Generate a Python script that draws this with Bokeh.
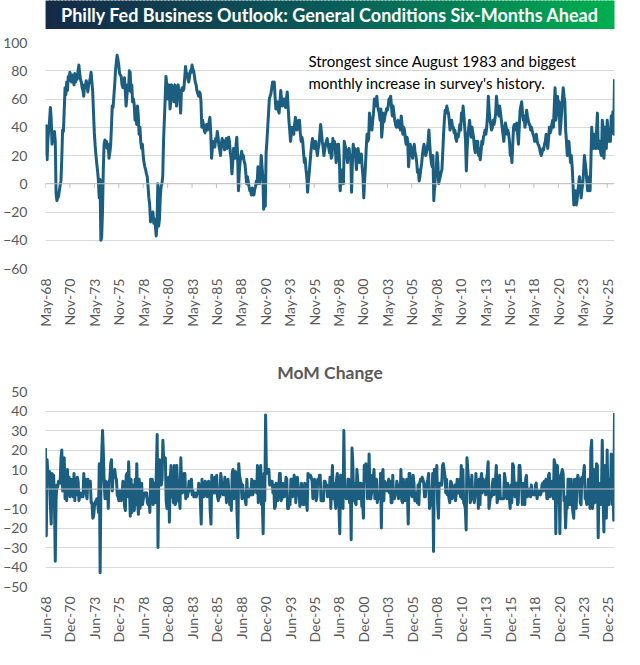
import numpy as np
from bokeh.plotting import figure
from bokeh.layouts import column
from bokeh.models import Range1d, FixedTicker, Label, Span
from bokeh.core.properties import value
from bokeh.embed import file_html
from bokeh.resources import INLINE

title_text = "Philly Fed Business Outlook: General Conditions Six-Months Ahead"
note_line1 = "Strongest since August 1983 and biggest"
note_line2 = "monthly increase in survey's history."
mom_title = "MoM Change"

top_tick_labels = ["May-68", "Nov-70", "May-73", "Nov-75", "May-78", "Nov-80", "May-83", "Nov-85",
                   "May-88", "Nov-90", "May-93", "Nov-95", "May-98", "Nov-00", "May-03", "Nov-05",
                   "May-08", "Nov-10", "May-13", "Nov-15", "May-18", "Nov-20", "May-23", "Nov-25"]
bottom_tick_labels = ["Jun-68", "Dec-70", "Jun-73", "Dec-75", "Jun-78", "Dec-80", "Jun-83", "Dec-85",
                      "Jun-88", "Dec-90", "Jun-93", "Dec-95", "Jun-98", "Dec-00", "Jun-03", "Dec-05",
                      "Jun-08", "Dec-10", "Jun-13", "Dec-15", "Jun-18", "Dec-20", "Jun-23", "Dec-25"]
top_y_ticks = [-60, -40, -20, 0, 20, 40, 60, 80, 100]
bottom_y_ticks = [-50, -40, -30, -20, -10, 0, 10, 20, 30, 40, 50]

# monthly readings of the six-months-ahead general conditions index (from May-68)
outlook_values = [
    20, 41, 17, 32, 38, 45, 54, 46, 28, 36, 30, 37,
    30, -7, -12, -10, -9, -5, -1, 2, 18, 38, 37, 52,
    68, 63, 72, 66, 76, 73, 79, 75, 72, 77, 74, 70,
    78, 72, 77, 74, 80, 84, 78, 74, 72, 68, 66, 62,
    70, 68, 73, 70, 65, 70, 72, 75, 79, 72, 65, 50,
    36, 27, 20, 14, 9, 2, -10, 3, -40, -38, -20, 10,
    28, 31, 26, 30, 25, 28, 18, 22, 27, 40, 55, 54,
    62, 70, 80, 86, 91, 88, 84, 78, 77, 76, 70, 68,
    72, 75, 66, 55, 62, 70, 66, 80, 79, 65, 70, 58,
    60, 56, 45, 50, 42, 55, 48, 35, 40, 30, 25, 28,
    20, 15, 12, 10, 7, 5, -2, -10, -15, -27, -22, -25,
    -20, -28, -25, -30, -37, -28, 0, -30, -25, -10, -2, 0,
    5, 30, 45, 60, 76, 70, 60, 64, 70, 53, 58, 70,
    66, 65, 58, 70, 62, 55, 67, 70, 64, 60, 50, 66,
    68, 66, 67, 75, 83, 78, 78, 74, 72, 76, 80, 79,
    84, 81, 80, 76, 72, 70, 66, 64, 62, 65, 64, 58,
    40, 45, 42, 38, 36, 40, 42, 38, 40, 44, 47, 36,
    18, 25, 30, 28, 26, 32, 30, 37, 33, 27, 24, 20,
    28, 32, 30, 27, 24, 30, 32, 25, 28, 33, 30, 22,
    18, 7, 15, 25, 20, 18, 27, 33, 20, -5, 8, 15,
    20, 23, 18, 20, 16, 14, 8, 0, 5, 2, -2, -5,
    -5, -8, -3, -6, -8, -4, -2, 2, 0, 12, 5, 0,
    8, 20, 12, 5, -18, -10, -16, 22, 30, 40, 50, 60,
    62, 64, 68, 72, 70, 72, 62, 53, 56, 58, 52, 50,
    58, 66, 60, 55, 58, 60, 56, 54, 60, 65, 55, 45,
    38, 30, 35, 40, 36, 35, 42, 47, 40, 38, 44, 45,
    45, 36, 30, 33, 30, 22, 15, 18, 10, 5, -6, 2,
    8, 15, 22, 28, 32, 27, 25, 30, 30, 24, 20, 25,
    28, 35, 42, 36, 30, 26, 20, 24, 28, 30, 32, 28,
    25, 22, 28, 18, 20, 32, 27, 30, 25, 15, 20, 28,
    28, 18, -5, 2, 5, 10, 0, 30, 27, 25, 20, 15,
    20, 25, 18, 20, -6, 15, 28, 22, 25, 18, 10, 20,
    25, 20, 15, 18, 21, 12, 5, -10, 2, 12, 25, 35,
    30, 32, 50, 45, 40, 38, 45, 50, 60, 55, 57, 62,
    55, 52, 50, 45, 53, 33, 40, 50, 44, 48, 50, 53,
    52, 55, 60, 58, 62, 55, 48, 55, 50, 45, 42, 40,
    44, 45, 40, 42, 38, 48, 42, 35, 40, 38, 32, 28,
    33, 30, 12, 20, 28, 25, 22, 18, 25, 28, 22, 20,
    15, 8, 10, 2, 5, 10, 14, 20, 25, 28, 24, 20,
    22, 25, 30, 38, 28, 20, 15, 12, 20, -12, -2, 5,
    10, 22, 15, 0, 3, 5, 8, 10, 22, 35, 45, 52,
    50, 55, 52, 50, 45, 38, 42, 45, 40, 40, 36, 38,
    32, 30, 35, 33, 37, 42, 38, 50, 45, 55, 48, 40,
    30, 9, 25, 35, 40, 45, 38, 33, 40, 36, 32, 25,
    22, 30, 28, 30, 20, 25, 17, 22, 30, 28, 33, 35,
    38, 35, 40, 48, 62, 52, 45, 42, 38, 40, 45, 42,
    45, 50, 62, 55, 50, 48, 55, 50, 45, 40, 35, 30,
    38, 43, 40, 35, 38, 35, 30, 20, 22, 15, 28, 40,
    42, 38, 40, 43, 35, 28, 40, 52, 55, 58, 50, 45,
    48, 40, 45, 52, 48, 45, 42, 42, 38, 40, 37, 35,
    33, 30, 32, 35, 30, 28, 27, 25, 22, 20, 22, 25,
    24, 28, 30, 35, 30, 25, 32, 40, 36, 38, 42, 45,
    40, 55, 68, 45, 50, 62, 55, 58, 35, 42, 50, 60,
    68, 62, 58, 38, 30, 20, 25, 30, 22, 15, 20, 12,
    0, -15, -10, -5, -15, -12, -5, 0, 5, -2, -10, -4,
    0, 8, 20, 15, 10, 2, -5, 0, 5, -5, 15, 40,
    30, 25, 35, 28, 25, 38, 50, 25, 28, 30, 22, 20,
    45, 40, 18, 30, 40, 25, 45, 38, 30, 35, 30, 48,
    40, 51, 35, 74,
]

LINE = "#1b5e80"
GRID = "#d9d9d9"
TXT = "#595959"
FONT = "Lato"

level = np.array(outlook_values, dtype=float)
idx = np.arange(len(level))
mom = np.diff(level)
mom_idx = idx[1:]

top_ticks = [30 * k for k in range(len(top_tick_labels))]
bottom_ticks = [1 + 30 * k for k in range(len(bottom_tick_labels))]

W = 624

# ---- gradient title bar ----
pt = figure(width=W, height=29, x_range=Range1d(0, 1), y_range=Range1d(0, 1),
            toolbar_location=None, output_backend="svg", min_border=0)
pt.axis.visible = False
pt.grid.visible = False
pt.outline_line_color = None
n = 160
lefts = np.linspace(0, 1, n, endpoint=False)
rights = lefts + 1.0 / n + 0.002
stops = np.array([[22, 42, 72], [10, 92, 90], [0, 176, 80]], dtype=float)
t = (lefts + 0.5 / n)
cols = []
for tt in t:
    if tt < 0.5:
        c = stops[0] + (stops[1] - stops[0]) * (tt / 0.5)
    else:
        c = stops[1] + (stops[2] - stops[1]) * ((tt - 0.5) / 0.5)
    cols.append("#%02x%02x%02x" % tuple(int(round(v)) for v in c))
pt.quad(left=lefts, right=rights, bottom=0, top=1, fill_color=cols, line_color=cols, line_width=0.5)
pt.text(x=[0.5], y=[0.5], text=[title_text], text_align="center", text_baseline="middle",
        text_color="white", text_font=value(FONT), text_font_style="bold", text_font_size="18px")


def style(p, xticks, xlabels, yticks):
    p.outline_line_color = None
    p.xgrid.grid_line_color = None
    p.ygrid.grid_line_color = GRID
    p.ygrid.ticker = FixedTicker(ticks=yticks)
    p.yaxis.ticker = FixedTicker(ticks=yticks)
    p.xaxis.ticker = FixedTicker(ticks=xticks)
    p.xaxis.major_label_overrides = {tk: lab for tk, lab in zip(xticks, xlabels)}
    p.xaxis.major_label_orientation = np.pi / 2
    for ax in (p.xaxis, p.yaxis):
        ax.axis_line_color = None
        ax.major_tick_line_color = None
        ax.minor_tick_line_color = None
        ax.major_label_text_font = FONT
        ax.major_label_text_font_size = "14px"
        ax.major_label_text_color = TXT
    p.yaxis.major_label_standoff = 12
    p.xaxis.major_label_standoff = 4


# ---- top chart ----
p1 = figure(width=W, height=300, x_range=Range1d(0, len(level) - 1), y_range=Range1d(-60, 100),
            toolbar_location=None, output_backend="svg",
            min_border_left=39, min_border_right=10, min_border_top=13, min_border_bottom=10)
style(p1, top_ticks, top_tick_labels, top_y_ticks)
p1.add_layout(Span(location=0, dimension="width", line_color="#bfbfbf", line_width=1))
p1.segment(x0=top_ticks, y0=[0] * len(top_ticks), x1=top_ticks, y1=[-3] * len(top_ticks),
           line_color="#bfbfbf", line_width=1)
p1.line(idx, level, line_color=LINE, line_width=3, line_join="round")
p1.add_layout(Label(x=323, y=93, text=note_line1, text_baseline="top", text_font=FONT,
                    text_font_size="15px", text_color="#000000"))
p1.add_layout(Label(x=323, y=78, text=note_line2, text_baseline="top", text_font=FONT,
                    text_font_size="15px", text_color="#000000"))

# ---- bottom chart ----
p2 = figure(width=W, height=316, x_range=Range1d(1, len(level) - 1), y_range=Range1d(-50, 50),
            toolbar_location=None, output_backend="svg", title=mom_title,
            min_border_left=44, min_border_right=10, min_border_top=62, min_border_bottom=10)
style(p2, bottom_ticks, bottom_tick_labels, bottom_y_ticks)
p2.title.align = "center"
p2.title.text_font = FONT
p2.title.text_font_size = "17.5px"
p2.title.text_font_style = "bold"
p2.title.text_color = TXT
p2.title.standoff = 18
p2.add_layout(Span(location=0, dimension="width", line_color="#bfbfbf", line_width=1))
p2.line(mom_idx, mom, line_color=LINE, line_width=3, line_join="round")

layout = column(pt, p1, p2)
open("out.html", "w").write(file_html(layout, INLINE))
